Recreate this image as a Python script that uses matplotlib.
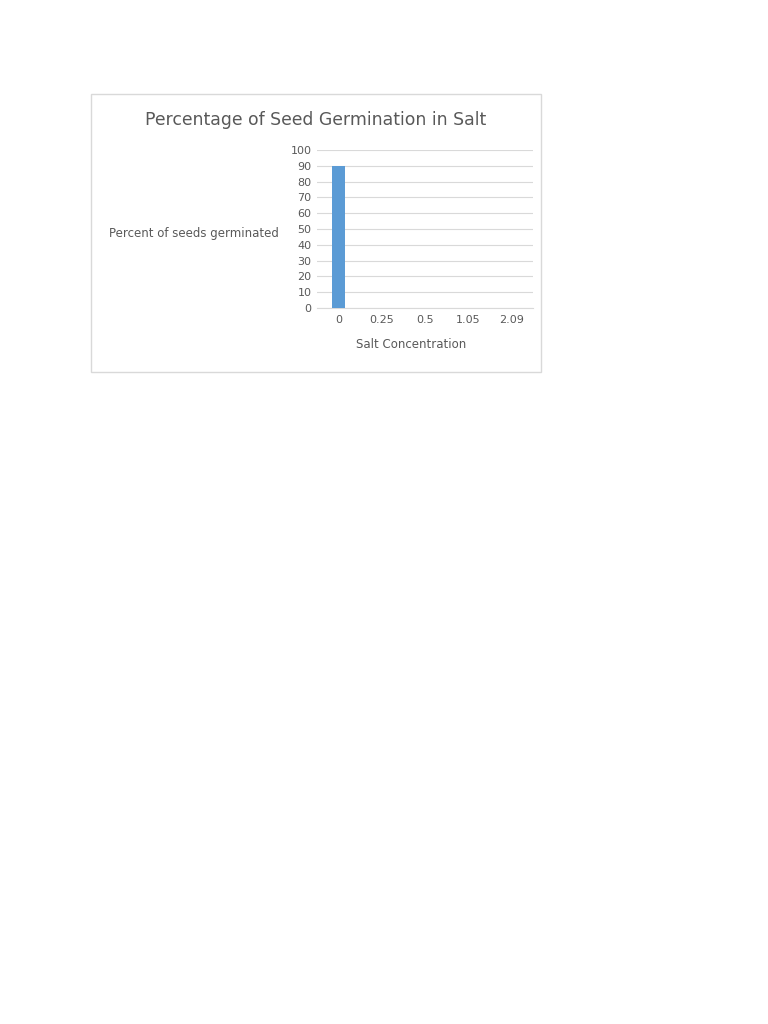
import numpy as np
import matplotlib
matplotlib.use("Agg")
import matplotlib.pyplot as plt
from matplotlib.patches import Rectangle

categories = ["0", "0.25", "0.5", "1.05", "2.09"]
germinated = [90, 0, 0, 0, 0]
y_ticks = [0, 10, 20, 30, 40, 50, 60, 70, 80, 90, 100]

text_color = "#595959"
grid_color = "#D9D9D9"
bar_color = "#5B9BD5"

W, H = 768, 1024
fig = plt.figure(figsize=(W / 100, H / 100), dpi=100)

# outer chart frame
fig.patches.append(Rectangle((91 / W, 1 - 372 / H), 450 / W, 278 / H,
                             transform=fig.transFigure, fill=False,
                             edgecolor=grid_color, lw=1))

ax = fig.add_axes([317 / W, 1 - 308 / H, 216 / W, 158 / H])
x = np.arange(len(categories))
ax.bar(x, germinated, width=0.3, color=bar_color, zorder=3)

ax.set_xlim(-0.5, len(categories) - 0.5)
ax.set_ylim(0, 100)
ax.set_yticks(y_ticks)
ax.set_xticks(x)
ax.set_xticklabels(categories)
ax.tick_params(axis="both", length=0, labelsize=8, colors=text_color)
ax.tick_params(axis="x", pad=5)
ax.tick_params(axis="y", pad=4)
ax.grid(axis="y", color=grid_color, lw=0.8, zorder=0)
for s in ["top", "right", "left"]:
    ax.spines[s].set_visible(False)
ax.spines["bottom"].set_color(grid_color)

fig.text(316 / W, 1 - 120 / H, "Percentage of Seed Germination in Salt",
         ha="center", va="center", fontsize=12.4, color=text_color)
fig.text(194 / W, 1 - 234 / H, "Percent of seeds germinated",
         ha="center", va="center", fontsize=8.5, color=text_color)
fig.text(411 / W, 1 - 344 / H, "Salt Concentration",
         ha="center", va="center", fontsize=8.5, color=text_color)

fig.savefig("out.png", dpi=100, facecolor="white")
